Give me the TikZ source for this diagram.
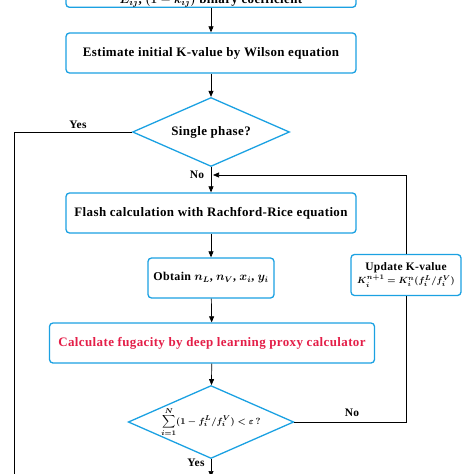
\documentclass[tikz,border=0pt]{standalone}
\usepackage{fontspec}
\setmainfont{Liberation Serif}[LetterSpace=3]
\usepackage{amsmath}
\usetikzlibrary{shapes.geometric,arrows.meta}
\definecolor{boxblue}{RGB}{27,161,226}
\definecolor{proxyred}{RGB}{228,30,72}

\begin{document}
\begin{tikzpicture}[
  x=1bp, y=-1bp,
  every node/.style={font=\fontsize{13}{15}\selectfont\bfseries\boldmath},
  box/.style={draw=boxblue, line width=1.3bp, rounded corners=3.5bp, fill=white,
    minimum height=40bp, inner sep=2bp, align=center},
  decision/.style={draw=boxblue, line width=1.3bp, diamond, aspect=2.27,
    minimum width=157bp, minimum height=69bp, inner sep=0pt},
  flow/.style={-{Triangle[length=6bp,width=5bp]}, line width=0.7bp},
  note/.style={font=\fontsize{11.5}{13}\selectfont\bfseries}
]
\useasboundingbox (0,0) rectangle (474,474);
% boxes and decisions, top to bottom
\node[box, minimum width=290bp, minimum height=0pt, inner sep=1bp,
  text height=30bp, text depth=3bp, anchor=south] (coef) at (211,8)
  {$E_{ij}$, $(1-k_{ij})$ binary coefficient};
\node[box, minimum width=290bp] (wilson) at (211,53) {Estimate initial K-value by Wilson equation};
\node[decision] (phase) at (211,132) {Single phase?};
\node[box, minimum width=290bp] (flash) at (211,213) {Flash calculation with Rachford-Rice equation};
\node[box, minimum width=126bp, font=\fontsize{12}{14}\selectfont\bfseries\boldmath] (obtain) at (211,278)
  {Obtain $n_L$, $n_V$, $x_i$, $y_i$};
\node[box, minimum width=325bp, text=proxyred] (fugacity) at (212,343)
  {Calculate fugacity by deep learning proxy calculator};
\node[decision, font=\fontsize{9.5}{11}\selectfont\bfseries\boldmath] (conv) at (211,422)
  {$\displaystyle\sum_{i=1}^{N}(1-f_i^L/f_i^V)<\varepsilon\,?$};
\node[box, minimum width=110bp, minimum height=41bp, inner sep=1bp,
  font=\fontsize{11.5}{13}\selectfont\bfseries\boldmath] (update) at (406,275)
  {Update K-value\\ {\fontsize{9.5}{11}\selectfont$K_i^{n+1}=K_i^n(f_i^L/f_i^V)$}};
% free ends
\coordinate (loopin) at (213,175);
\coordinate (yesend) at (14,476);
\coordinate (exit) at (211,477);
% main flow
\draw[flow] (coef) -- (wilson);
\draw[flow] (wilson) -- (phase);
\draw[flow] (phase) -- (flash);
\draw[flow] (flash) -- (obtain);
\draw[flow] (obtain) -- (fugacity);
\draw[flow] (fugacity) -- (conv);
\draw[flow] (conv) -- (exit);
% single phase: skip to the end
\draw[line width=0.7bp] (phase.west) -| (yesend);
% not converged: update and go round again
\draw[line width=0.7bp] (conv.east) -| (update.south);
\draw[flow] (update.north) |- (loopin);
% labels
\node[note] (yes1) at (78,125) {Yes};
\node[note] (no1) at (197,175) {No};
\node[note] (no2) at (352,413) {No};
\node[note] (yes2) at (196,463) {Yes};
\end{tikzpicture}
\end{document}
